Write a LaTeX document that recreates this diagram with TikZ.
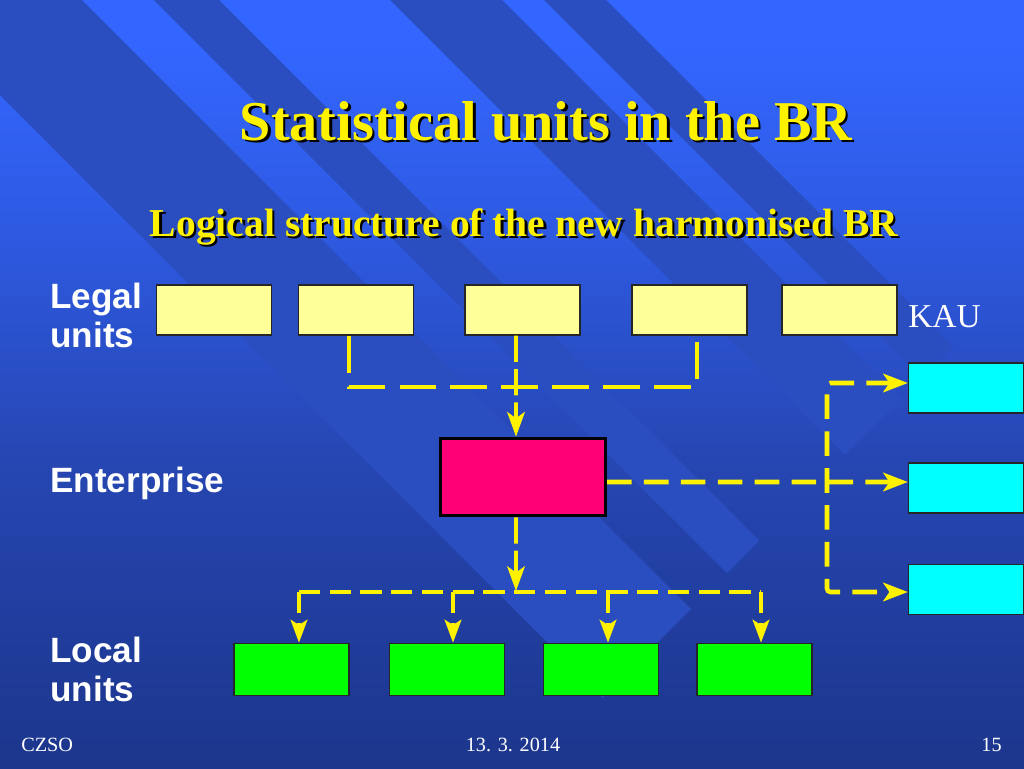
\documentclass[tikz,border=0pt]{standalone}
\usepackage{fontspec}
\setmainfont{Liberation Serif}
\setsansfont{Liberation Sans}
\usetikzlibrary{arrows.meta}

\definecolor{bgtop}{HTML}{3366FF}
\definecolor{bgupper}{HTML}{2E5AE2}
\definecolor{bgmid}{HTML}{2646B2}
\definecolor{bglow}{HTML}{1C368C}
\definecolor{bgbot}{HTML}{142868}
\definecolor{bandblue}{HTML}{2A4DBF}
\definecolor{lyellow}{HTML}{FFFF99}
\definecolor{entpink}{HTML}{FF0077}
\definecolor{kaucyan}{HTML}{00FFFF}
\definecolor{locgreen}{HTML}{00FF00}

\pgfdeclareverticalshading{slidebg}{100bp}{color(0bp)=(bgbot); color(25bp)=(bglow); color(45bp)=(bgmid); color(60bp)=(bgupper); color(72bp)=(bgtop); color(100bp)=(bgtop)}

\newcommand{\shadowed}[1]{\makebox[0pt][l]{\kern1.4pt\raisebox{-1.4pt}{\color{black}#1}}#1}

\begin{document}
\begin{tikzpicture}[x=0.02cm, y=-0.02cm,
  lubox/.style={draw=black!85, line width=0.7pt, fill=lyellow, minimum width=2.3cm, minimum height=1cm, inner sep=0pt},
  entbox/.style={draw=black, line width=1.8pt, fill=entpink, minimum width=3.3cm, minimum height=1.55cm, inner sep=0pt},
  kaubox/.style={draw=black!85, line width=0.7pt, fill=kaucyan, minimum width=2.3cm, minimum height=1cm, inner sep=0pt},
  locbox/.style={draw=black!85, line width=0.7pt, fill=locgreen, minimum width=2.3cm, minimum height=1.05cm, inner sep=0pt},
  rowlabel/.style={text=white, font=\sffamily\bfseries\fontsize{20}{22}\selectfont, align=left, inner sep=0pt},
  footer/.style={text=white, font=\fontsize{11.5}{13}\selectfont, inner sep=0pt},
  lubus/.style={draw=yellow, line width=2.8pt, dash pattern=on 21pt off 8pt},
  spine/.style={draw=yellow, line width=2.2pt, dash pattern=on 15pt off 4pt, -{Stealth[length=14pt, width=10pt, inset=3.5pt]}},
  kaulink/.style={draw=yellow, line width=2.6pt, dash pattern=on 14pt off 7pt, rounded corners=2pt},
  locbus/.style={draw=yellow, line width=2.3pt, dash pattern=on 12pt off 5.5pt, rounded corners=2pt},
  tip/.style={-{Stealth[length=14pt, width=10.5pt, inset=3.5pt]}},
  smalltip/.style={-{Stealth[length=13pt, width=9.5pt, inset=3pt]}}]
  \useasboundingbox (0,0) rectangle (1024,768);
  \shade[shading=slidebg] (0,0) rectangle (1024,768);
  \fill[bandblue] (0,0) -- (82,0) -- (691,609) -- (602.5,697.5) -- (0,95) -- cycle;
  \fill[bandblue] (154,0) -- (219,0) -- (759.5,540.5) -- (727,573) -- cycle;
  \fill[bandblue] (390,0) -- (502,0) -- (901,399) -- (845,455) -- cycle;
  \fill[bandblue] (544,0) -- (606,0) -- (953,347) -- (922,378) -- cycle;

  \node[text=yellow, font=\bfseries\fontsize{32}{36}\selectfont, inner sep=0pt, anchor=base] (title) at (546,140) {\shadowed{Statistical units in the BR}};
  \node[text=yellow, font=\bfseries\fontsize{22.5}{26}\selectfont, inner sep=0pt, anchor=base] (subtitle) at (524,236) {\shadowed{Logical structure of the new harmonised BR}};

  \node[rowlabel, anchor=north west] (legal) at (50,283) {Legal\\units};
  \node[rowlabel, anchor=base west] (enterprise) at (50,492) {Enterprise};
  \node[rowlabel, anchor=north west] (local) at (50,637) {Local\\units};
  \node[text=white, font=\fontsize{19}{22}\selectfont, inner sep=0pt, anchor=base west] (kau) at (908,327) {KAU};

  \node[lubox] (LU1) at (214,310) {};
  \node[lubox] (LU2) at (356,310) {};
  \node[lubox] (LU3) at (522.5,310) {};
  \node[lubox] (LU4) at (689.5,310) {};
  \node[lubox] (LU5) at (839.5,310) {};
  \node[entbox] (E1) at (523,477) {};
  \node[kaubox] (K1) at (966,388) {};
  \node[kaubox] (K2) at (966,488) {};
  \node[kaubox] (K3) at (966,589.5) {};
  \node[locbox] (L1) at (291.5,669.5) {};
  \node[locbox] (L2) at (447,669.5) {};
  \node[locbox] (L3) at (601,669.5) {};
  \node[locbox] (L4) at (754.5,669.5) {};

  \coordinate (lb) at (516,387);
  \coordinate (kv) at (827,482);
  \coordinate (lcm) at (516,591);
  \coordinate (lc1) at (299,592);
  \coordinate (lc2) at (453,592);
  \coordinate (lc3) at (608,592);
  \coordinate (lc4) at (761,592);

  \draw[lubus] ([xshift=-0.14cm]LU2.south) |- (lb) -| ([xshift=0.15cm]LU4.south);
  \draw[spine] ([xshift=-0.13cm]LU3.south) -- ([xshift=-0.14cm]E1.north);
  \draw[spine] ([xshift=-0.14cm]E1.south) -- (lcm);
  \draw[kaulink, tip] ([yshift=-0.1cm]E1.east) -- ([yshift=0.12cm]K2.west);
  \draw[kaulink, {Stealth[length=14pt, width=10.5pt, inset=3.5pt]}-{Stealth[length=14pt, width=10.5pt, inset=3.5pt]}] ([yshift=0.1cm]K1.west) -| (kv) |- ([yshift=-0.05cm]K3.west);
  \draw[locbus] (lc1) -- (lc4);
  \foreach \i in {1,...,4}
    \draw[locbus, smalltip] (lc\i) -- (lc\i |- L\i.north);

  \node[footer, anchor=base west] (czso) at (21,751) {CZSO};
  \node[footer, anchor=base] (date) at (513,751) {13. 3. 2014};
  \node[footer, anchor=base east] (page) at (1002,751) {15};
\end{tikzpicture}
\end{document}
